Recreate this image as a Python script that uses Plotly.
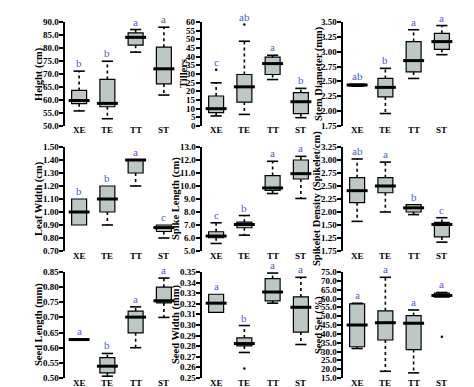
import plotly.graph_objects as go

groups = ["XE", "TE", "TT", "ST"]

# Box statistics per panel (low whisker, q1, median, q3, high whisker)
height_low = [55.8, 52.8, 78.4, 61.9]
height_q1 = [58.6, 57.4, 81.1, 66.2]
height_med = [59.8, 58.7, 84.1, 72.0]
height_q3 = [63.7, 67.9, 85.8, 80.3]
height_high = [71.1, 74.9, 87.1, 88.0]
height_out = [[], [], [], []]
height_letters = ["b", "b", "a", "a"]
height_ticks = [50, 55, 60, 65, 70, 75, 80, 85, 90]

tillers_low = [5.8, 6.7, 26.8, 4.8]
tillers_q1 = [7.7, 13.8, 29.7, 7.1]
tillers_med = [10.0, 22.6, 36.0, 14.0]
tillers_q3 = [17.3, 29.7, 39.7, 19.2]
tillers_high = [24.9, 48.9, 40.8, 21.7]
tillers_out = [[32.5], [58.5], [], []]
tillers_letters = ["c", "ab", "a", "b"]
tillers_ticks = [0, 5, 10, 15, 20, 25, 30, 35, 40, 45, 50, 55, 60]

stem_low = [2.42, 1.96, 2.55, 2.95]
stem_q1 = [2.425, 2.24, 2.66, 3.04]
stem_med = [2.44, 2.40, 2.85, 3.17]
stem_q3 = [2.455, 2.55, 3.17, 3.31]
stem_high = [2.455, 2.72, 3.37, 3.44]
stem_out = [[], [], [], []]
stem_letters = ["ab", "b", "a", "a"]
stem_ticks = [1.75, 2.00, 2.25, 2.50, 2.75, 3.00, 3.25, 3.50]

leaf_low = [0.90, 0.90, 1.20, 0.80]
leaf_q1 = [0.90, 1.00, 1.30, 0.85]
leaf_med = [1.00, 1.10, 1.40, 0.88]
leaf_q3 = [1.10, 1.20, 1.40, 0.90]
leaf_high = [1.10, 1.20, 1.40, 0.90]
leaf_out = [[], [], [], []]
leaf_letters = ["b", "b", "a", "c"]
leaf_ticks = [0.70, 0.80, 0.90, 1.00, 1.10, 1.20, 1.30, 1.40, 1.50]

spike_low = [5.58, 6.22, 9.42, 9.04]
spike_q1 = [6.02, 6.79, 9.67, 10.54]
spike_med = [6.15, 7.04, 9.85, 10.95]
spike_q3 = [6.48, 7.22, 10.80, 12.00]
spike_high = [7.17, 7.73, 11.90, 12.28]
spike_out = [[], [], [], []]
spike_letters = ["c", "b", "a", "a"]
spike_ticks = [5, 6, 7, 8, 9, 10, 11, 12, 13]

density_low = [1.82, 2.00, 1.95, 1.42]
density_q1 = [2.18, 2.37, 2.00, 1.52]
density_med = [2.41, 2.50, 2.08, 1.76]
density_q3 = [2.66, 2.66, 2.14, 1.80]
density_high = [3.02, 2.96, 2.14, 1.89]
density_out = [[], [], [], []]
density_letters = ["ab", "a", "b", "c"]
density_ticks = [1.25, 1.50, 1.75, 2.00, 2.25, 2.50, 2.75, 3.00, 3.25]
density_ticktext = ["1.75", "1.25", "1.50", "2.00", "2.25", "2.50", "2.75", "3.00", "3.25"]

slen_low = [0.624, 0.506, 0.600, 0.700]
slen_q1 = [0.624, 0.517, 0.649, 0.748]
slen_med = [0.627, 0.539, 0.701, 0.755]
slen_q3 = [0.629, 0.567, 0.721, 0.800]
slen_high = [0.629, 0.581, 0.735, 0.830]
slen_out = [[], [], [], []]
slen_letters = ["a", "b", "a", "a"]
slen_ticks = [0.50, 0.55, 0.60, 0.65, 0.70, 0.75, 0.80, 0.85]

swid_low = [0.312, 0.2741, 0.3206, 0.2816]
swid_q1 = [0.312, 0.2803, 0.3228, 0.2933]
swid_med = [0.3206, 0.2825, 0.3311, 0.3167]
swid_q3 = [0.329, 0.2878, 0.3438, 0.3265]
swid_high = [0.329, 0.2995, 0.349, 0.345]
swid_out = [[], [0.259], [], []]
swid_letters = ["a", "b", "a", "a"]
swid_ticks = [0.25, 0.26, 0.27, 0.28, 0.29, 0.30, 0.31, 0.32, 0.33, 0.34, 0.35]

sset_low = [31.7, 18.8, 17.9, 60.8]
sset_q1 = [32.7, 36.5, 31.1, 60.8]
sset_med = [45.0, 46.3, 46.0, 61.7]
sset_q3 = [57.0, 53.0, 50.3, 63.0]
sset_high = [57.3, 72.0, 53.5, 63.4]
sset_out = [[], [], [], [38.4]]
sset_letters = ["a", "a", "a", "a"]
sset_ticks = [15, 20, 25, 30, 35, 40, 45, 50, 55, 60, 65, 70, 75]

W, H = 474, 387
FILL = "#bdc7c3"
BLUE = "#4a5cd6"
SERIF = "Liberation Serif"

panels = [
    dict(title="Height (cm)", low=height_low, q1=height_q1, med=height_med, q3=height_q3,
         high=height_high, out=height_out, letters=height_letters,
         ticks=height_ticks, fmt="{:.1f}", col=0, row=0, tx=31),
    dict(title="Tillers", low=tillers_low, q1=tillers_q1, med=tillers_med, q3=tillers_q3,
         high=tillers_high, out=tillers_out, letters=tillers_letters,
         ticks=tillers_ticks, fmt="{:d}", col=1, row=0, tx=176),
    dict(title="Stem Diameter (mm)", low=stem_low, q1=stem_q1, med=stem_med, q3=stem_q3,
         high=stem_high, out=stem_out, letters=stem_letters,
         ticks=stem_ticks, fmt="{:.2f}", col=2, row=0, tx=311),
    dict(title="Leaf Width (cm)", low=leaf_low, q1=leaf_q1, med=leaf_med, q3=leaf_q3,
         high=leaf_high, out=leaf_out, letters=leaf_letters,
         ticks=leaf_ticks, fmt="{:.2f}", col=0, row=1, tx=31),
    dict(title="Spike Length (cm)", low=spike_low, q1=spike_q1, med=spike_med, q3=spike_q3,
         high=spike_high, out=spike_out, letters=spike_letters,
         ticks=spike_ticks, fmt="{:.1f}", col=1, row=1, tx=168),
    dict(title="Spikelet Density (Spikelet/cm)", low=density_low, q1=density_q1, med=density_med,
         q3=density_q3, high=density_high, out=density_out, letters=density_letters,
         ticks=density_ticks, ticktext=density_ticktext, col=2, row=1, tx=309),
    dict(title="Seed Length (mm)", low=slen_low, q1=slen_q1, med=slen_med, q3=slen_q3,
         high=slen_high, out=slen_out, letters=slen_letters,
         ticks=slen_ticks, fmt="{:.2f}", col=0, row=2, tx=31),
    dict(title="Seed Width (mm)", low=swid_low, q1=swid_q1, med=swid_med, q3=swid_q3,
         high=swid_high, out=swid_out, letters=swid_letters,
         ticks=swid_ticks, fmt="{:.2f}", col=1, row=2, tx=168),
    dict(title="Seed Set (%)", low=sset_low, q1=sset_q1, med=sset_med, q3=sset_q3,
         high=sset_high, out=sset_out, letters=sset_letters,
         ticks=sset_ticks, fmt="{:.1f}", col=2, row=2, tx=311),
]

col_px = [(57, 170), (194, 307), (335, 448)]
row_px = [(14, 118), (139, 243), (264, 370)]
BOXW = 0.53
BOX_PX = BOXW * (113 / 4.0)
TICKFONT = dict(family=SERIF, size=9, color="black", weight="bold")

fig = go.Figure()
annotations = []
xs = list(range(len(groups)))

for k, p in enumerate(panels):
    sfx = "" if k == 0 else str(k + 1)
    xa, ya = "x" + sfx, "y" + sfx
    # box body
    fig.add_trace(go.Bar(
        x=xs, base=p["q1"], y=[b - a for a, b in zip(p["q1"], p["q3"])],
        width=BOXW, marker=dict(color=FILL, line=dict(color="black", width=1.2)),
        xaxis=xa, yaxis=ya, showlegend=False, hoverinfo="skip"))
    # whiskers (dashed)
    wx, wy = [], []
    for i in xs:
        if p["high"][i] > p["q3"][i]:
            wx += [i, i, None]
            wy += [p["q3"][i], p["high"][i], None]
        if p["low"][i] < p["q1"][i]:
            wx += [i, i, None]
            wy += [p["q1"][i], p["low"][i], None]
    fig.add_trace(go.Scatter(
        x=wx, y=wy, mode="lines", line=dict(color="black", width=1.6, dash="3px,3px"),
        xaxis=xa, yaxis=ya, showlegend=False, hoverinfo="skip"))
    # caps
    cx, cy = [], []
    for i in xs:
        if p["high"][i] > p["q3"][i]:
            cx.append(i); cy.append(p["high"][i])
        if p["low"][i] < p["q1"][i]:
            cx.append(i); cy.append(p["low"][i])
    fig.add_trace(go.Scatter(
        x=cx, y=cy, mode="markers",
        marker=dict(symbol="line-ew", size=8, line=dict(color="black", width=1.6)),
        xaxis=xa, yaxis=ya, showlegend=False, hoverinfo="skip"))
    # median
    fig.add_trace(go.Scatter(
        x=xs, y=p["med"], mode="markers",
        marker=dict(symbol="line-ew", size=BOX_PX, line=dict(color="black", width=3)),
        xaxis=xa, yaxis=ya, showlegend=False, hoverinfo="skip"))
    # outliers
    ox, oy = [], []
    for i in xs:
        for v in p["out"][i]:
            ox.append(i); oy.append(v)
    if ox:
        fig.add_trace(go.Scatter(
            x=ox, y=oy, mode="markers", marker=dict(color="black", size=2.5),
            xaxis=xa, yaxis=ya, showlegend=False, hoverinfo="skip"))
    # significance letters
    for i in xs:
        top = max([p["high"][i], p["q3"][i]] + p["out"][i])
        annotations.append(dict(
            x=i, y=top, xref=xa, yref=ya, text=p["letters"][i], showarrow=False,
            yanchor="bottom", yshift=0,
            font=dict(family=SERIF, size=11, color=BLUE)))

    c0, c1 = col_px[p["col"]]
    r0, r1 = row_px[p["row"]]
    # y-axis title (rotated)
    annotations.append(dict(
        x=p["tx"] / W, y=1 - (r0 + r1) / 2 / H, xref="paper", yref="paper",
        text=p["title"], textangle=-90, showarrow=False,
        xanchor="center", yanchor="middle",
        font=dict(family=SERIF, size=10.5, color="black", weight="bold")))
    # y tick labels, tight against the tick marks
    ticktext = p.get("ticktext") or [p["fmt"].format(v) for v in p["ticks"]]
    for v, t in zip(p["ticks"], ticktext):
        annotations.append(dict(
            x=(c0 - 4.5) / W, y=v, xref="paper", yref=ya, text=t, showarrow=False,
            xanchor="right", yanchor="middle", font=TICKFONT))
    # category labels just under the plot area
    for i in xs:
        annotations.append(dict(
            x=i, y=1 - (r1 + 4.5) / H, xref=xa, yref="paper", text=groups[i],
            showarrow=False, xanchor="center", yanchor="middle", font=TICKFONT))

    fig.layout["xaxis" + sfx] = dict(
        domain=[c0 / W, c1 / W], range=[-0.5, 3.5], anchor=ya,
        tickmode="array", tickvals=xs, showticklabels=False,
        showline=False, showgrid=False, zeroline=False, ticks="", fixedrange=True)
    fig.layout["yaxis" + sfx] = dict(
        domain=[1 - r1 / H, 1 - r0 / H], range=[p["ticks"][0], p["ticks"][-1]], anchor=xa,
        tickmode="array", tickvals=p["ticks"], showticklabels=False,
        showline=True, linecolor="black", linewidth=1.5,
        ticks="outside", ticklen=4, tickwidth=1.5, tickcolor="black",
        showgrid=False, zeroline=False, fixedrange=True)

fig.update_layout(
    width=W, height=H, margin=dict(l=0, r=0, t=0, b=0, autoexpand=False),
    paper_bgcolor="white", plot_bgcolor="white",
    annotations=annotations, barmode="overlay", showlegend=False,
)

fig.write_html("out.html")
